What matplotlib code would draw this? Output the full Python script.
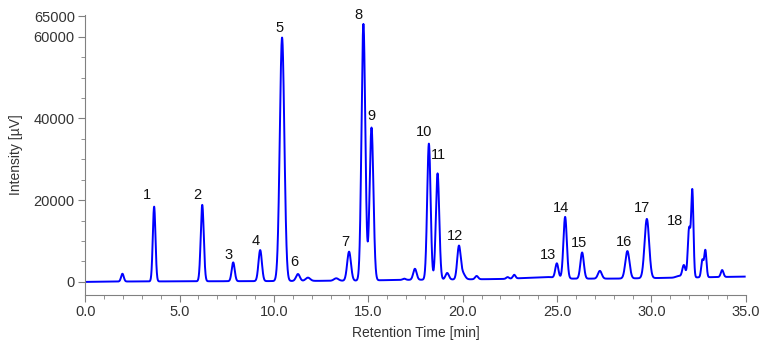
import numpy as np
import matplotlib
matplotlib.use("Agg")
import matplotlib.pyplot as plt
from matplotlib.ticker import MultipleLocator, FixedLocator

plt.rcParams['font.family'] = ['Liberation Sans', 'DejaVu Sans']

# peak table: retention time [min], height [uV], sigma [min]
peak_times = [1.97, 3.65, 6.20, 7.84, 9.27, 10.43, 11.27, 11.80, 13.30, 13.98,
              14.74, 15.17, 16.90, 17.47, 18.21, 18.67, 19.18, 19.80, 20.00, 20.74,
              22.38, 22.73, 24.99, 25.43, 26.33, 27.27, 28.73, 29.76, 31.45, 31.72,
              32.00, 32.17, 32.70, 32.86, 33.75]
peak_heights = [1900, 18300, 18700, 4600, 7600, 59600, 1700, 800, 600, 7100,
                62800, 37400, 300, 2700, 33300, 26000, 1600, 7900, 1500, 800,
                400, 900, 3500, 15000, 6400, 1900, 6700, 14500, 400, 3000,
                12000, 21000, 4200, 6600, 1700]
peak_sigmas = [0.07, 0.07, 0.08, 0.08, 0.09, 0.12, 0.10, 0.12, 0.12, 0.10,
               0.10, 0.10, 0.08, 0.09, 0.09, 0.09, 0.09, 0.09, 0.12, 0.08,
               0.07, 0.07, 0.08, 0.09, 0.09, 0.10, 0.11, 0.12, 0.15, 0.08,
               0.07, 0.06, 0.06, 0.06, 0.07]

# baseline drift
base_times = [0, 2, 10, 14, 17, 22, 24.5, 25.8, 28, 31, 35]
base_levels = [0, 100, 200, 300, 500, 700, 1200, 800, 800, 1000, 1300]

# peak numbers and where they are printed
label_text = [str(i) for i in range(1, 19)]
label_x = [3.28, 5.93, 7.57, 9.05, 10.27, 11.07, 13.80, 14.50, 15.17, 17.95,
           18.74, 19.59, 24.52, 25.20, 26.16, 28.54, 29.49, 31.24]
label_y = [21200, 21200, 6600, 10000, 62200, 4900, 9800, 65300, 40500, 36600,
           31000, 11200, 6600, 18000, 9500, 9800, 18000, 14900]

t = np.arange(0, 34.95, 0.005)
signal = np.interp(t, base_times, base_levels)
for t0, h, s in zip(peak_times, peak_heights, peak_sigmas):
    signal += h * np.exp(-0.5 * ((t - t0) / s) ** 2)

fig = plt.figure(figsize=(7.68, 3.52), dpi=100)
ax = fig.add_axes([0.111, 0.162, 0.86, 0.795])
ax.plot(t, signal, color='#0000ff', lw=1.4)

for txt, x, y in zip(label_text, label_x, label_y):
    ax.text(x, y, txt, ha='center', va='center', fontsize=10.5, color='#111111')

ax.set_xlim(0, 35)
ax.set_ylim(-3200, 65300)
ax.xaxis.set_major_locator(MultipleLocator(5))
ax.xaxis.set_minor_locator(MultipleLocator(1))
ax.yaxis.set_major_locator(FixedLocator([0, 20000, 40000, 60000, 65000]))
ax.yaxis.set_minor_locator(MultipleLocator(5000))
ax.xaxis.set_major_formatter(lambda v, p: f"{v:.1f}")
ax.yaxis.set_major_formatter(lambda v, p: f"{v:.0f}")

for side in ['top', 'right']:
    ax.spines[side].set_visible(False)
for side in ['left', 'bottom']:
    ax.spines[side].set_color('#808080')
ax.tick_params(which='both', colors='#808080', labelcolor='#333333', labelsize=10.5)
ax.tick_params(which='major', length=5, pad=2.5)
ax.tick_params(which='minor', length=3)

ax.set_xlabel("Retention Time [min]", fontsize=10, color='#333333', labelpad=5)
ax.set_ylabel("Intensity [µV]", fontsize=10, color='#333333', labelpad=8)

fig.savefig("out.png", dpi=100)
